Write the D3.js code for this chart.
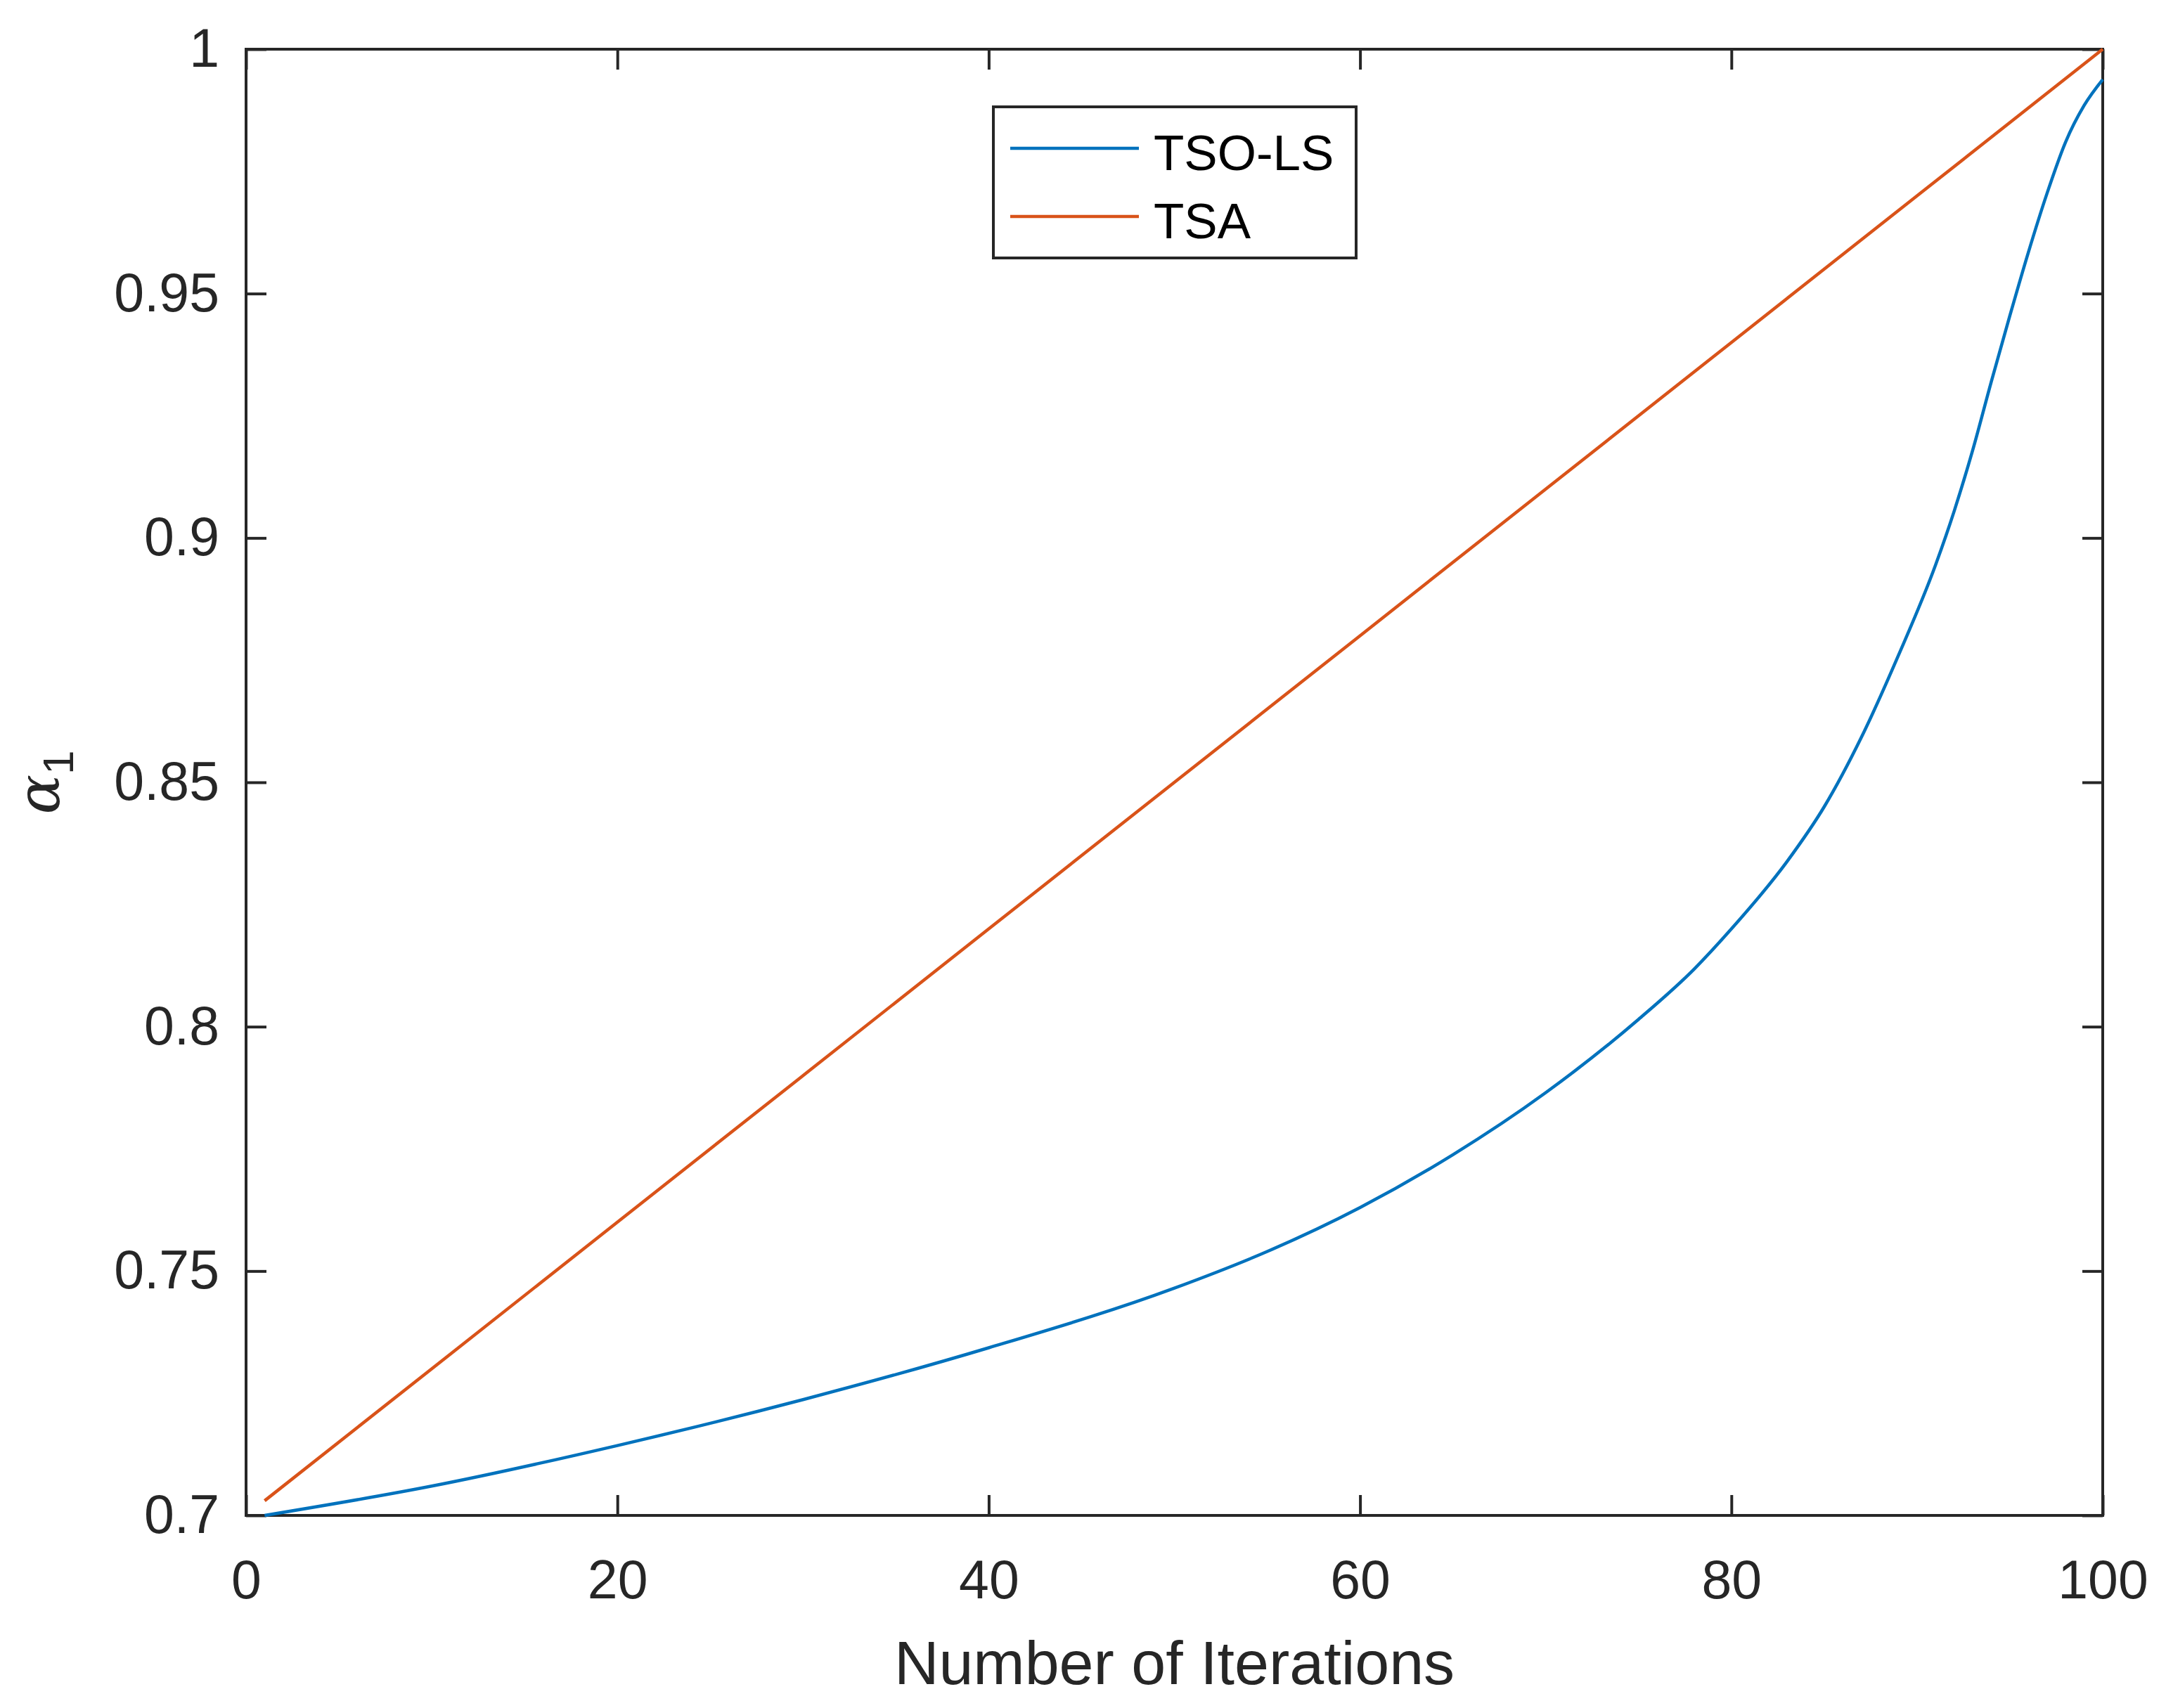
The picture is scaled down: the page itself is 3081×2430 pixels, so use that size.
<!DOCTYPE html>
<html lang="en">
<head>
    <meta charset="UTF-8">
    <title>alpha_1 vs iterations</title>
    <script src="https://cdn.jsdelivr.net/npm/d3@7"></script>
    <style>
        body {
            margin: 0;
            padding: 0;
            background: white;
            font-family: 'Liberation Sans', Arial, sans-serif;
        }
        .tick text {
            font-size: 77px;
            fill: #262626;
        }
        .tick line {
            stroke: #262626;
            stroke-width: 4;
        }
        .legend-text {
            font-size: 71px;
            fill: #000;
        }
    </style>
</head>
<body>
    <div id="chart"></div>

    <script>
        const tsoIters = [1, 10, 20, 30, 40, 50, 55, 60, 65, 70, 75, 78, 80, 83, 85, 87, 89, 91, 92, 93, 94, 95, 96, 97, 98, 99, 100];
        const tsoValues = [0.7000, 0.7060, 0.7143, 0.7237, 0.7343, 0.7465, 0.7540, 0.7630, 0.7738, 0.7865, 0.8015, 0.8118, 0.8200, 0.8338, 0.8450, 0.8592, 0.8760, 0.8945, 0.9055, 0.9180, 0.9320, 0.9455, 0.9585, 0.9705, 0.9810, 0.9885, 0.9938];

        // TSA is a straight line
        const tsaIters = [1, 20, 40, 60, 80, 100];
        const tsaValues = [0.703, 0.760, 0.820, 0.880, 0.940, 1.000];

        const xTicks = [0, 20, 40, 60, 80, 100];
        const xTickLabels = ["0", "20", "40", "60", "80", "100"];
        const yTicks = [0.7, 0.75, 0.8, 0.85, 0.9, 0.95, 1];
        const yTickLabels = ["0.7", "0.75", "0.8", "0.85", "0.9", "0.95", "1"];

        const seriesNames = ["TSO-LS", "TSA"];
        const seriesColors = ["#0072BD", "#D95319"];

        const W = 3081, H = 2430;
        const plotL = 350, plotR = 2991, plotT = 70, plotB = 2156;

        const svg = d3.select("#chart")
            .append("svg")
            .attr("width", W)
            .attr("height", H);

        const x = d3.scaleLinear().domain([0, 100]).range([plotL, plotR]);
        const y = d3.scaleLinear().domain([0.7, 1]).range([plotB, plotT]);

        // axes, ticks point inward on all four sides
        const xAxis = svg.append("g")
            .attr("transform", `translate(0,${plotB})`)
            .call(d3.axisBottom(x)
                .tickValues(xTicks)
                .tickFormat((d, i) => xTickLabels[i])
                .tickSizeInner(-29)
                .tickSizeOuter(0)
                .tickPadding(63));
        xAxis.select(".domain").remove();
        xAxis.selectAll("text").attr("font-family", "'Liberation Sans', Arial, sans-serif");

        svg.append("g")
            .attr("transform", `translate(0,${plotT})`)
            .call(d3.axisTop(x).tickValues(xTicks).tickFormat("").tickSizeInner(-29).tickSizeOuter(0))
            .select(".domain").remove();

        const yAxis = svg.append("g")
            .attr("transform", `translate(${plotL},0)`)
            .call(d3.axisLeft(y)
                .tickValues(yTicks)
                .tickFormat((d, i) => yTickLabels[i])
                .tickSizeInner(-29)
                .tickSizeOuter(0)
                .tickPadding(38));
        yAxis.select(".domain").remove();
        yAxis.selectAll("text").attr("font-family", "'Liberation Sans', Arial, sans-serif");

        svg.append("g")
            .attr("transform", `translate(${plotR},0)`)
            .call(d3.axisRight(y).tickValues(yTicks).tickFormat("").tickSizeInner(-29).tickSizeOuter(0))
            .select(".domain").remove();

        svg.append("rect")
            .attr("x", plotL)
            .attr("y", plotT)
            .attr("width", plotR - plotL)
            .attr("height", plotB - plotT)
            .attr("fill", "none")
            .attr("stroke", "#262626")
            .attr("stroke-width", 4);

        // data lines
        const line = d3.line()
            .x(d => x(d[0]))
            .y(d => y(d[1]))
            .curve(d3.curveMonotoneX);

        const series = [
            tsoIters.map((t, i) => [t, tsoValues[i]]),
            tsaIters.map((t, i) => [t, tsaValues[i]])
        ];

        series.forEach((pts, i) => {
            svg.append("path")
                .datum(pts)
                .attr("fill", "none")
                .attr("stroke", seriesColors[i])
                .attr("stroke-width", 4.5)
                .attr("d", line);
        });

        // axis labels
        svg.append("text")
            .attr("x", (plotL + plotR) / 2)
            .attr("y", 2396)
            .attr("text-anchor", "middle")
            .attr("font-size", 88)
            .attr("fill", "#262626")
            .text("Number of Iterations");

        const yLab = svg.append("text")
            .attr("transform", `translate(84,${(plotT + plotB) / 2}) rotate(-90)`)
            .attr("text-anchor", "middle")
            .attr("fill", "#262626");
        yLab.append("tspan")
            .attr("font-family", "'DejaVu Serif', 'Liberation Serif', serif")
            .attr("font-style", "italic")
            .attr("font-size", 84)
            .text("α");
        yLab.append("tspan")
            .attr("font-size", 62)
            .attr("dy", 20)
            .text("1");

        // legend
        const legend = svg.append("g");
        legend.append("rect")
            .attr("x", 1413)
            .attr("y", 152)
            .attr("width", 1929 - 1413)
            .attr("height", 367 - 152)
            .attr("fill", "white")
            .attr("stroke", "#262626")
            .attr("stroke-width", 4);

        seriesNames.forEach((name, i) => {
            const ly = 211 + i * 97;
            legend.append("line")
                .attr("x1", 1437)
                .attr("x2", 1620)
                .attr("y1", ly)
                .attr("y2", ly)
                .attr("stroke", seriesColors[i])
                .attr("stroke-width", 4.5);
            legend.append("text")
                .attr("class", "legend-text")
                .attr("x", 1641)
                .attr("y", ly + 31)
                .text(name);
        });
    </script>
</body>
</html>
